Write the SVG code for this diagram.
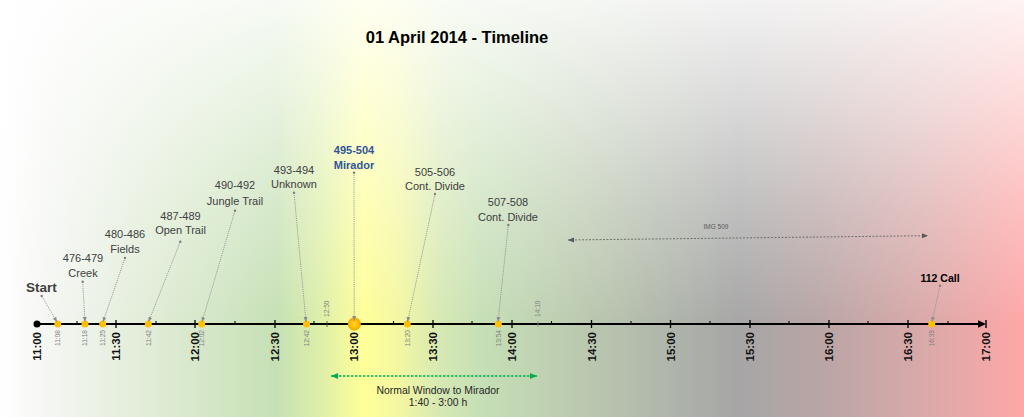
<svg xmlns="http://www.w3.org/2000/svg" width="1024" height="417" viewBox="0 0 1024 417">
  <defs>
    <linearGradient id="bgH" x1="0" y1="0" x2="1024" y2="0" gradientUnits="userSpaceOnUse">
      <stop offset="0" stop-color="#ffffff"/>
      <stop offset="0.05" stop-color="#f4f6f2"/>
      <stop offset="0.15" stop-color="#e0ecd6"/>
      <stop offset="0.27" stop-color="#c6e0b5"/>
      <stop offset="0.31" stop-color="#dbeeaa"/>
      <stop offset="0.355" stop-color="#ffff99"/>
      <stop offset="0.39" stop-color="#f3f7a2"/>
      <stop offset="0.43" stop-color="#d6e8b4"/>
      <stop offset="0.47" stop-color="#c6dfb6"/>
      <stop offset="0.56" stop-color="#bccbb0"/>
      <stop offset="0.72" stop-color="#a6a6a6"/>
      <stop offset="0.80" stop-color="#b9a5a5"/>
      <stop offset="0.90" stop-color="#d9a9a9"/>
      <stop offset="1" stop-color="#ffa7a7"/>
    </linearGradient>
    <linearGradient id="bgV" x1="0" y1="0" x2="0" y2="417" gradientUnits="userSpaceOnUse">
      <stop offset="0" stop-color="#ffffff" stop-opacity="0.86"/>
      <stop offset="0.25" stop-color="#ffffff" stop-opacity="0.58"/>
      <stop offset="0.5" stop-color="#ffffff" stop-opacity="0.28"/>
      <stop offset="0.78" stop-color="#ffffff" stop-opacity="0"/>
      <stop offset="1" stop-color="#ffffff" stop-opacity="0"/>
    </linearGradient>
    <radialGradient id="bigDot" cx="0.5" cy="0.5" r="0.5">
      <stop offset="0" stop-color="#ffd040"/>
      <stop offset="0.6" stop-color="#ffc000"/>
      <stop offset="1" stop-color="#f0a800"/>
    </radialGradient>
    <marker id="dot" markerWidth="4" markerHeight="4" refX="2" refY="2" markerUnits="userSpaceOnUse">
      <circle cx="2" cy="2" r="1.2" fill="#7f7f7f"/>
    </marker>
    <marker id="tip" markerWidth="6" markerHeight="6" refX="5" refY="3" orient="auto" markerUnits="userSpaceOnUse">
      <path d="M0,1 L5,3 L0,5 Z" fill="#8c8c8c"/>
    </marker>
    <marker id="grayArrow" markerWidth="7" markerHeight="6" refX="6" refY="3" orient="auto-start-reverse" markerUnits="userSpaceOnUse">
      <path d="M0,0.5 L6,3 L0,5.5 Z" fill="#595959"/>
    </marker>
    <marker id="greenArrow" markerWidth="8" markerHeight="7" refX="7" refY="3.5" orient="auto-start-reverse" markerUnits="userSpaceOnUse">
      <path d="M0,0.5 L7,3.5 L0,6.5 Z" fill="#00b050"/>
    </marker>
  </defs>
  <style>
    .lbl { font-family: "Liberation Sans", Arial, sans-serif; font-size: 11px; fill: #404040; text-anchor: middle; }
    .blue { font-family: "Liberation Sans", Arial, sans-serif; font-size: 11px; font-weight: bold; fill: #2f5597; text-anchor: middle; }
    .hr { font-family: "Liberation Sans", Arial, sans-serif; font-size: 11.5px; font-weight: bold; fill: #111111; text-anchor: end; }
    .tm { font-family: "Liberation Sans", Arial, sans-serif; font-size: 6.6px; fill: #7f7f7f; text-anchor: end; }
    .tmu { font-family: "Liberation Sans", Arial, sans-serif; font-size: 6.6px; fill: #7f7f7f; text-anchor: start; }
    .axis { stroke: #000000; stroke-width: 1.8; fill: none; }
    .major { stroke: #000000; stroke-width: 1.3; }
    .minor { stroke: #000000; stroke-width: 1.1; }
    .ev { fill: #ffc000; }
    .call { stroke: #8c8c8c; stroke-width: 0.8; stroke-dasharray: 1.2 0.9; fill: none; marker-start: url(#dot); marker-end: url(#tip); }
  </style>

  <!-- background -->
  <rect x="0" y="0" width="1024" height="417" fill="url(#bgH)"/>
  <rect x="0" y="0" width="1024" height="417" fill="url(#bgV)"/>

  <!-- title -->
  <text x="457" y="43" style="font-family: 'Liberation Sans', Arial, sans-serif; font-size: 16.5px; font-weight: bold; fill: #000000; text-anchor: middle;">01 April 2014 - Timeline</text>

  <!-- axis -->
  <g id="axis">
    <line class="axis" x1="37" y1="324" x2="982" y2="324"/>
    <circle cx="37" cy="324" r="3.5" fill="#000000"/>
    <path d="M978,320.3 L986,324 L978,327.7 Z" fill="#000000"/>
    <line x1="986" y1="320" x2="986" y2="328" stroke="#000000" stroke-width="1.4"/>
    <g class="major">
      <line x1="116" y1="320" x2="116" y2="328"/>
      <line x1="195" y1="320" x2="195" y2="328"/>
      <line x1="275" y1="320" x2="275" y2="328"/>
      <line x1="354" y1="320" x2="354" y2="328"/>
      <line x1="433" y1="320" x2="433" y2="328"/>
      <line x1="512" y1="320" x2="512" y2="328"/>
      <line x1="591.5" y1="320" x2="591.5" y2="328"/>
      <line x1="670.5" y1="320" x2="670.5" y2="328"/>
      <line x1="750" y1="320" x2="750" y2="328"/>
      <line x1="829" y1="320" x2="829" y2="328"/>
      <line x1="908" y1="320" x2="908" y2="328"/>
    </g>
    <g class="minor">
      <line x1="77" y1="321" x2="77" y2="324"/>
      <line x1="156" y1="321" x2="156" y2="324"/>
      <line x1="235" y1="321" x2="235" y2="324"/>
      <line x1="314" y1="321" x2="314" y2="324"/>
      <line x1="393.5" y1="321" x2="393.5" y2="324"/>
      <line x1="472" y1="321" x2="472" y2="324"/>
      <line x1="551.5" y1="321" x2="551.5" y2="324"/>
      <line x1="631" y1="321" x2="631" y2="324"/>
      <line x1="710" y1="321" x2="710" y2="324"/>
      <line x1="789" y1="321" x2="789" y2="324"/>
      <line x1="868" y1="321" x2="868" y2="324"/>
      <line x1="948" y1="321" x2="948" y2="324"/>
    </g>
    <text class="hr" transform="translate(41,332) rotate(-90)">11:00</text>
    <text class="hr" transform="translate(120,332) rotate(-90)">11:30</text>
    <text class="hr" transform="translate(199,332) rotate(-90)">12:00</text>
    <text class="hr" transform="translate(279,332) rotate(-90)">12:30</text>
    <text class="hr" transform="translate(358,332) rotate(-90)">13:00</text>
    <text class="hr" transform="translate(437,332) rotate(-90)">13:30</text>
    <text class="hr" transform="translate(516,332) rotate(-90)">14:00</text>
    <text class="hr" transform="translate(595.5,332) rotate(-90)">14:30</text>
    <text class="hr" transform="translate(674.5,332) rotate(-90)">15:00</text>
    <text class="hr" transform="translate(754,332) rotate(-90)">15:30</text>
    <text class="hr" transform="translate(833,332) rotate(-90)">16:00</text>
    <text class="hr" transform="translate(912,332) rotate(-90)">16:30</text>
    <text class="hr" transform="translate(990,332) rotate(-90)">17:00</text>
  </g>

  <g id="mark-1250">
    <line x1="327" y1="321" x2="327" y2="327" stroke="#404040" stroke-width="0.8"/>
    <text class="tmu" transform="translate(329.3,317) rotate(-90)">12:50</text>
  </g>
  <g id="mark-1410">
    <line x1="538" y1="321" x2="538" y2="327" stroke="#808080" stroke-width="0.8"/>
    <text class="tmu" transform="translate(540.3,317) rotate(-90)">14:10</text>
  </g>

  <g id="ev-start">
    <circle class="ev" cx="57.7" cy="324" r="3.5"/>
    <text class="tm" transform="translate(60,330) rotate(-90)">11:08</text>
    <text x="41.5" y="292" style="font-family: 'Liberation Sans', Arial, sans-serif; font-size: 13.5px; font-weight: bold; fill: #404040; text-anchor: middle;">Start</text>
  </g>
  <g id="ev-creek">
    <circle class="ev" cx="85" cy="324" r="3.5"/>
    <text class="tm" transform="translate(87.3,330) rotate(-90)">11:18</text>
    <text class="lbl" x="83" y="262">476-479</text>
    <text class="lbl" x="83" y="277">Creek</text>
  </g>
  <g id="ev-fields">
    <circle class="ev" cx="102.7" cy="324" r="3.5"/>
    <text class="tm" transform="translate(105,330) rotate(-90)">11:25</text>
    <text class="lbl" x="125" y="238">480-486</text>
    <text class="lbl" x="125" y="253">Fields</text>
  </g>
  <g id="ev-open-trail">
    <circle class="ev" cx="148.3" cy="324" r="3.5"/>
    <text class="tm" transform="translate(150.6,330) rotate(-90)">11:42</text>
    <text class="lbl" x="180.5" y="220">487-489</text>
    <text class="lbl" x="180.5" y="234">Open Trail</text>
  </g>
  <g id="ev-jungle-trail">
    <circle class="ev" cx="201.7" cy="324" r="3.5"/>
    <text class="tm" transform="translate(204,330) rotate(-90)">12:02</text>
    <text class="lbl" x="235" y="189">490-492</text>
    <text class="lbl" x="235" y="205">Jungle Trail</text>
  </g>
  <g id="ev-unknown">
    <circle class="ev" cx="306.5" cy="324" r="3.5"/>
    <text class="tm" transform="translate(308.8,330) rotate(-90)">12:42</text>
    <text class="lbl" x="294" y="174">493-494</text>
    <text class="lbl" x="294" y="188">Unknown</text>
  </g>
  <g id="ev-mirador">
    <circle cx="354.3" cy="324" r="6.2" fill="url(#bigDot)" stroke="#f2a900" stroke-width="0.8"/>
    <text class="blue" x="354" y="154">495-504</text>
    <text class="blue" x="354" y="169">Mirador</text>
  </g>
  <g id="ev-cont-divide-1">
    <circle class="ev" cx="407.3" cy="324" r="3.5"/>
    <text class="tm" transform="translate(409.6,330) rotate(-90)">13:20</text>
    <text class="lbl" x="435" y="176">505-506</text>
    <text class="lbl" x="435" y="190">Cont. Divide</text>
  </g>
  <g id="ev-cont-divide-2">
    <circle class="ev" cx="498.3" cy="324" r="3.5"/>
    <text class="tm" transform="translate(500.6,330) rotate(-90)">13:54</text>
    <text class="lbl" x="508" y="206">507-508</text>
    <text class="lbl" x="508" y="221">Cont. Divide</text>
  </g>
  <g id="ev-112-call">
    <circle class="ev" cx="931.7" cy="324" r="3.5"/>
    <text class="tm" transform="translate(934,330) rotate(-90)">16:39</text>
    <text x="940" y="282" style="font-family: 'Liberation Sans', Arial, sans-serif; font-size: 10.5px; font-weight: bold; fill: #000000; text-anchor: middle;">112 Call</text>
  </g>
  <g id="img-509">
    <text x="716" y="229" style="font-family: 'Liberation Sans', Arial, sans-serif; font-size: 6.5px; fill: #595959; text-anchor: middle;">IMG 509</text>
  </g>
  <g id="normal-window">
    <text class="lbl" x="438" y="394" style="font-size: 10.4px; fill: #262626;">Normal Window to Mirador</text>
    <text class="lbl" x="438" y="406" style="font-size: 10.4px; fill: #262626;">1:40 - 3:00 h</text>
  </g>

  <g id="connectors">
    <line class="call" x1="41.7" y1="296" x2="57" y2="322"/>
    <line class="call" x1="82.7" y1="281.7" x2="85" y2="322"/>
    <line class="call" x1="125" y1="258" x2="103" y2="322"/>
    <line class="call" x1="180.3" y1="241.7" x2="148.5" y2="322"/>
    <line class="call" x1="235" y1="210.7" x2="202" y2="322"/>
    <line class="call" x1="294" y1="192.7" x2="306" y2="322"/>
    <line class="call" x1="354" y1="172.7" x2="354.2" y2="321"/>
    <line class="call" x1="435" y1="194" x2="407.5" y2="322"/>
    <line class="call" x1="508.3" y1="225" x2="498" y2="322"/>
    <line class="call" x1="940" y1="285.7" x2="932" y2="322"/>
    <line x1="568" y1="240" x2="928" y2="235.7" stroke="#595959" stroke-width="0.8" stroke-dasharray="2 1.5" marker-start="url(#grayArrow)" marker-end="url(#grayArrow)"/>
    <line x1="331" y1="376" x2="537" y2="376" stroke="#00b050" stroke-width="1.3" stroke-dasharray="2.5 1.5" marker-start="url(#greenArrow)" marker-end="url(#greenArrow)"/>
  </g>
</svg>
